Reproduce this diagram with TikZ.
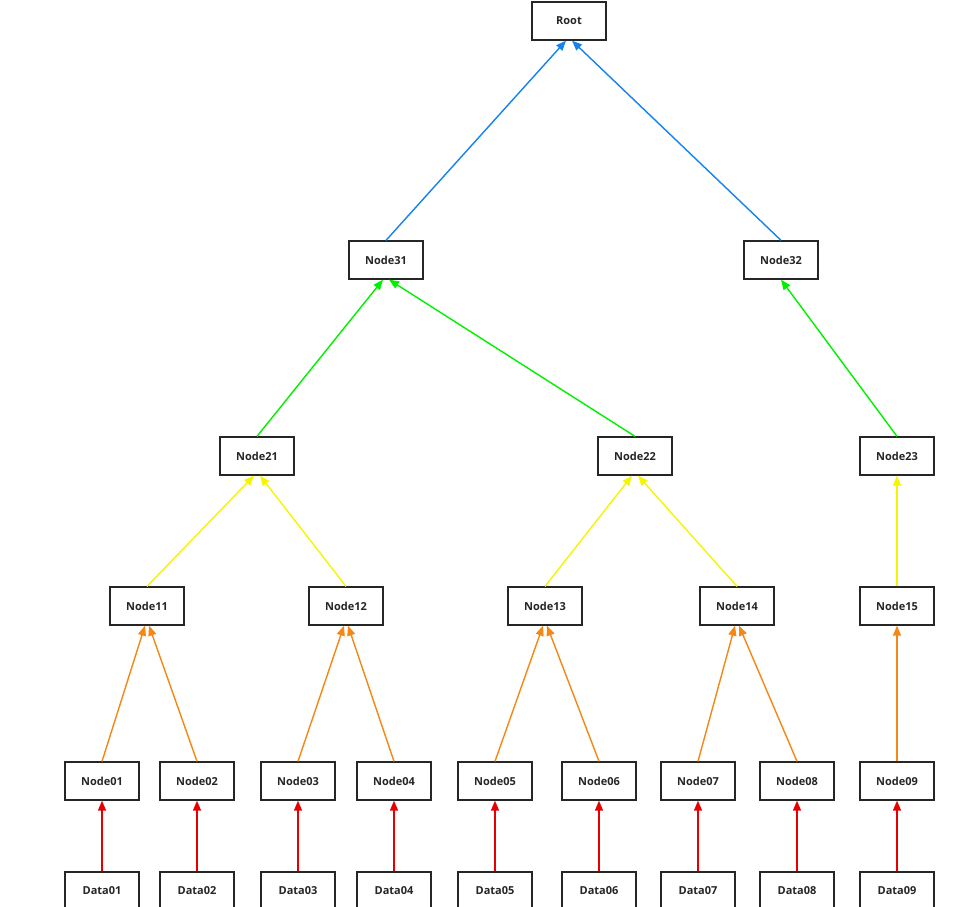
\documentclass[tikz,border=0pt]{standalone}
\usepackage{fontspec}
\setmainfont{Open Sans}
\usetikzlibrary{arrows.meta}
\definecolor{cblue}{RGB}{20,130,240}
\definecolor{cgreen}{RGB}{0,240,0}
\definecolor{cyel}{RGB}{245,245,0}
\definecolor{corg}{RGB}{245,135,20}
\definecolor{cred}{RGB}{230,0,0}
\begin{document}
\begin{tikzpicture}[x=1pt,y=-1pt,
  box/.style={draw=black!85,line width=1.3pt,fill=white,minimum width=74pt,minimum height=38pt,inner sep=0pt,font=\fontsize{11}{13}\selectfont\bfseries,text=black!85},
  ar/.style={line width=1.4pt,-{Triangle[width=8pt,length=10pt]}},
  cb/.style={ar,draw=cblue,fill=cblue},
  cg/.style={ar,draw=cgreen,fill=cgreen},
  cy/.style={ar,draw=cyel,fill=cyel},
  co/.style={ar,draw=corg,fill=corg},
  cr/.style={ar,draw=cred,fill=cred}]
\useasboundingbox (0,0) rectangle (955,906);
\node[box] (root) at (569,21) {Root};
\node[box] (n31) at (386,260) {Node31};
\node[box] (n32) at (781,260) {Node32};
\node[box] (n21) at (257,456) {Node21};
\node[box] (n22) at (635,456) {Node22};
\node[box] (n23) at (897,456) {Node23};
\foreach \n/\x in {11/147,12/346,13/545,14/737,15/897}{\node[box] (n\n) at (\x,606) {Node\n};}
\foreach \n/\x in {01/102,02/197,03/298,04/394,05/495,06/599,07/698,08/797,09/897}{
  \node[box] (n\n) at (\x,781) {Node\n};
  \node[box] (d\n) at (\x,891) {Data\n};
  \draw[cr] (d\n.north) -- (n\n.south);}
\draw[cb] (n31.north) -- ([xshift=-3pt]root.south);
\draw[cb] (n32.north) -- ([xshift=3pt]root.south);
\draw[cg] (n21.north) -- ([xshift=-3pt]n31.south);
\draw[cg] (n22.north) -- ([xshift=3pt]n31.south);
\draw[cg] (n23.north) -- (n32.south);
\draw[cy] (n11.north) -- ([xshift=-3pt]n21.south);
\draw[cy] (n12.north) -- ([xshift=3pt]n21.south);
\draw[cy] (n13.north) -- ([xshift=-3pt]n22.south);
\draw[cy] (n14.north) -- ([xshift=3pt]n22.south);
\draw[cy] (n15.north) -- (n23.south);
\draw[co] (n01.north) -- ([xshift=-2pt]n11.south);
\draw[co] (n02.north) -- ([xshift=2pt]n11.south);
\draw[co] (n03.north) -- ([xshift=-2pt]n12.south);
\draw[co] (n04.north) -- ([xshift=2pt]n12.south);
\draw[co] (n05.north) -- ([xshift=-2pt]n13.south);
\draw[co] (n06.north) -- ([xshift=2pt]n13.south);
\draw[co] (n07.north) -- ([xshift=-2pt]n14.south);
\draw[co] (n08.north) -- ([xshift=2pt]n14.south);
\draw[co] (n09.north) -- (n15.south);
\end{tikzpicture}
\end{document}
